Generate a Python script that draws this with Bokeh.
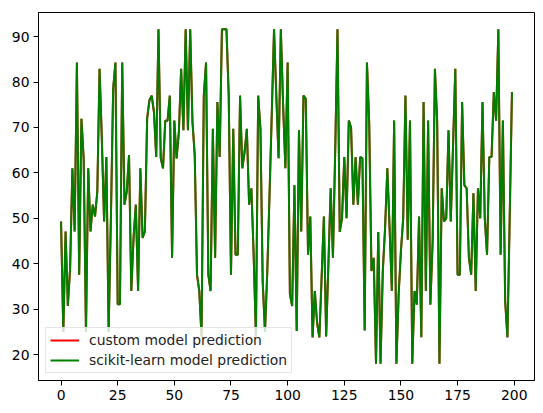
from bokeh.plotting import figure
from bokeh.models import FixedTicker, Legend, LegendItem, Range1d
from bokeh.embed import file_html
from bokeh.resources import INLINE

sample_index = list(range(200))

custom_pred = [
    49.3, 25.0, 47.1, 30.7, 39.0, 61.0, 47.1, 84.3, 37.6, 71.9,
    63.0, 25.0, 61.0, 47.1, 53.0, 50.4, 55.9, 82.9, 67.5, 49.3,
    63.5, 25.0, 50.0, 78.5, 84.3, 31.1, 31.1, 84.3, 53.0, 55.9,
    63.9, 34.0, 45.7, 53.0, 34.0, 61.0, 45.7, 47.1, 72.0, 76.0,
    77.0, 73.4, 63.5, 91.6, 63.2, 61.0, 71.5, 71.5, 77.0, 41.3,
    71.5, 63.2, 69.0, 82.9, 69.4, 91.6, 69.4, 91.6, 71.2, 63.9,
    37.6, 34.0, 24.0, 77.0, 84.3, 37.6, 34.0, 69.7, 41.3, 75.6,
    63.5, 91.6, 91.6, 91.6, 77.0, 37.6, 69.7, 42.0, 42.0, 77.0,
    61.0, 64.6, 69.7, 53.0, 56.6, 42.0, 24.0, 77.0, 69.7, 36.0,
    25.0, 38.0, 55.0, 73.0, 91.6, 77.0, 63.2, 91.6, 75.0, 61.0,
    84.3, 33.3, 30.7, 57.3, 25.2, 69.4, 47.1, 77.0, 76.3, 42.0,
    50.4, 23.8, 34.0, 27.0, 23.8, 37.0, 50.4, 24.0, 40.0, 56.6,
    41.3, 65.0, 91.6, 47.0, 50.0, 63.5, 50.0, 71.5, 70.0, 53.0,
    63.5, 53.0, 63.5, 63.2, 25.3, 84.3, 71.0, 38.4, 41.3, 18.0,
    47.0, 18.0, 38.4, 47.8, 61.0, 47.8, 34.0, 71.5, 18.0, 33.3,
    42.8, 50.0, 77.0, 45.3, 71.5, 18.0, 34.0, 31.0, 50.4, 23.8,
    75.6, 34.0, 71.5, 31.0, 45.0, 82.9, 71.2, 18.0, 56.6, 49.3,
    50.0, 69.4, 49.3, 66.0, 82.9, 37.6, 37.6, 75.6, 57.3, 56.6,
    41.3, 37.6, 55.5, 34.0, 56.6, 50.0, 75.6, 50.0, 42.0, 63.5,
    63.5, 77.8, 71.5, 91.6, 42.0, 71.5, 31.8, 23.8, 50.0, 77.8,
]
sklearn_pred = list(custom_pred)

x_ticks = [0, 25, 50, 75, 100, 125, 150, 175, 200]
y_ticks = [20, 30, 40, 50, 60, 70, 80, 90]
series_labels = ["custom model prediction", "scikit-learn model prediction"]

p = figure(
    frame_width=496, frame_height=368,
    output_backend="svg", toolbar_location=None,
    x_range=Range1d(-9.95, 208.95), y_range=Range1d(14.3, 95.3),
    min_border_left=38, min_border_right=9, min_border_top=12, min_border_bottom=33,
)
p.background_fill_color = "white"
p.border_fill_color = "white"
p.outline_line_color = "black"
p.outline_line_width = 1
p.xgrid.visible = False
p.ygrid.visible = False

for ax in (p.xaxis[0], p.yaxis[0]):
    ax.axis_line_color = "black"
    ax.major_tick_in = 0
    ax.major_tick_out = 5
    ax.minor_tick_line_color = None
    ax.major_tick_line_color = "black"
    ax.major_label_text_font = "DejaVu Sans"
    ax.major_label_text_font_size = "13.9px"
    ax.major_label_text_color = "black"
    ax.major_label_standoff = 4
p.xaxis.ticker = FixedTicker(ticks=x_ticks)
p.yaxis.ticker = FixedTicker(ticks=y_ticks)

r1 = p.line(sample_index, custom_pred, line_color="red", line_width=2)
r2 = p.line(sample_index, sklearn_pred, line_color="green", line_width=2)

legend = Legend(
    items=[LegendItem(label=series_labels[0], renderers=[r1]),
           LegendItem(label=series_labels[1], renderers=[r2])],
    location="bottom_left",
    label_text_font="DejaVu Sans",
    label_text_font_size="13.9px",
    label_text_color="#222222",
    border_line_color="#cccccc",
    border_line_width=1,
    background_fill_color="white",
    background_fill_alpha=0.8,
    glyph_width=29,
    glyph_height=16,
    label_height=16,
    label_standoff=10,
    spacing=4,
    padding=4,
    margin=7,
)
p.add_layout(legend)

open("out.html", "w").write(file_html(p, INLINE))
